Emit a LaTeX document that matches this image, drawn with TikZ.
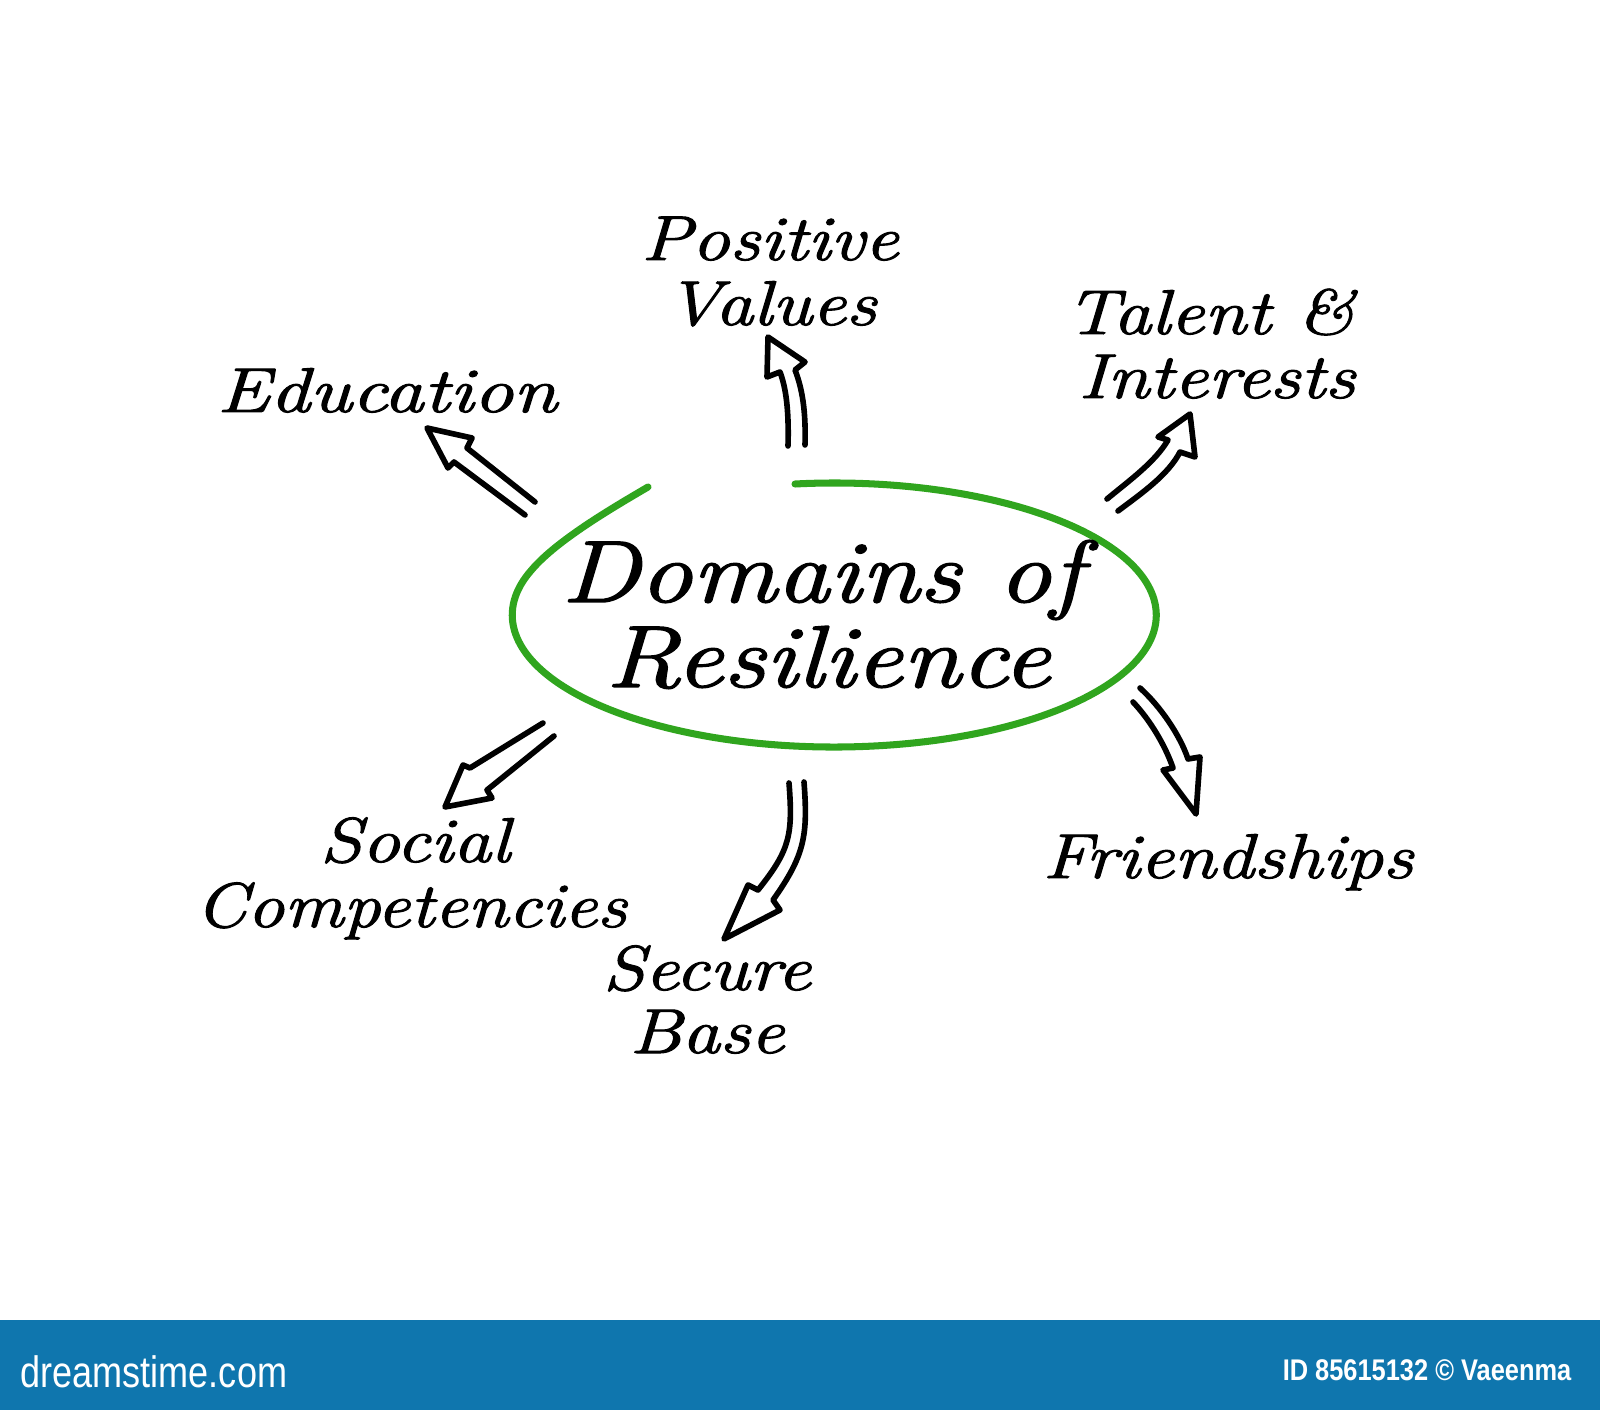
\documentclass[tikz,border=0pt]{standalone}
\usepackage{fontspec}
\newfontfamily\barfont{Liberation Sans}
\newfontfamily\handfont[FakeBold=1.6]{Latin Modern Roman}
\definecolor{ringgreen}{RGB}{48,165,30}
\definecolor{barblue}{RGB}{15,118,174}
\newcommand{\hw}[1]{\scalebox{1.2}[1]{#1}}
\begin{document}
\begin{tikzpicture}[x=0.01cm,y=-0.01cm,
  lbl/.style={font=\handfont\itshape\fontsize{18}{20}\selectfont, inner sep=0pt, anchor=base},
  ttl/.style={font=\handfont\itshape\fontsize{25}{26}\selectfont, inner sep=0pt, anchor=base},
  harrow/.style={draw=black, line width=1.6pt, line join=round, line cap=round}]
\useasboundingbox (0,0) rectangle (1600,1410);
\fill[white] (0,0) rectangle (1600,1410);

% central ring
\draw[ringgreen, line width=2pt, line cap=round]
  (795,484) arc[start angle=-97, end angle=200, x radius=322, y radius=132]
  .. controls (557,540) and (614,507) .. (648,487);

% labels
\node[ttl] (dom1) at (822,602) {\hw{Domains of}};
\node[ttl] (dom2) at (828,687) {\hw{Resilience}};
\node[lbl] (pos1) at (770,260) {\hw{Positive}};
\node[lbl] (pos2) at (771,325) {\hw{Values}};
\node[lbl] (tal1) at (1210,334) {\hw{Talent \&}};
\node[lbl] (tal2) at (1217,398) {\hw{Interests}};
\node[lbl] (edu) at (387,412) {\scalebox{1.26}[1]{Education}};
\node[lbl] (soc1) at (415,862) {\hw{Social}};
\node[lbl] (soc2) at (411,927) {\scalebox{1.17}[1]{Competencies}};
\node[lbl] (sec1) at (707,990) {\hw{Secure}};
\node[lbl] (sec2) at (707,1053) {\hw{Base}};
\node[lbl] (fri) at (1228,878) {\hw{Friendships}};

% hollow arrows
\draw[harrow] (535,502) -- (467,448) -- (472,438) -- (427,428) -- (448,468) -- (454,462) -- (525,515);
\draw[harrow] (788,446) .. controls (789,410) and (786,388) .. (780,372) -- (767,377) -- (768,337) -- (805,362) -- (795,370) .. controls (802,388) and (806,410) .. (805,445);
\draw[harrow] (1107,499) .. controls (1130,480) and (1155,462) .. (1168,440) -- (1158,437) -- (1190,414) -- (1195,457) -- (1180,452) .. controls (1168,475) and (1142,493) .. (1118,511);
\draw[harrow] (543,723) -- (470,768) -- (463,765) -- (445,807) -- (492,798) -- (487,790) -- (554,736);
\draw[harrow] (789,783) .. controls (793,835) and (790,850) .. (758,890) -- (748,885) -- (724,939) -- (780,910) -- (773,900) .. controls (805,855) and (808,835) .. (804,782);
\draw[harrow] (1133,702) .. controls (1150,720) and (1165,745) .. (1173,768) -- (1163,770) -- (1196,814) -- (1200,757) -- (1188,759) .. controls (1180,735) and (1160,706) .. (1140,688);

% bottom bar
\fill[barblue] (0,1320) rectangle (1600,1410);
\node[font=\barfont\fontsize{12.5}{12.5}\selectfont, text=white, anchor=west, inner sep=0pt] (ds) at (20,1372) {\scalebox{0.82}[1]{dreamstime.com}};
\node[font=\barfont\bfseries\fontsize{8.5}{9}\selectfont, text=white, anchor=east, inner sep=0pt] (id) at (1572,1370) {\scalebox{0.85}[1]{ID 85615132 © Vaeenma}};
\end{tikzpicture}
\end{document}
